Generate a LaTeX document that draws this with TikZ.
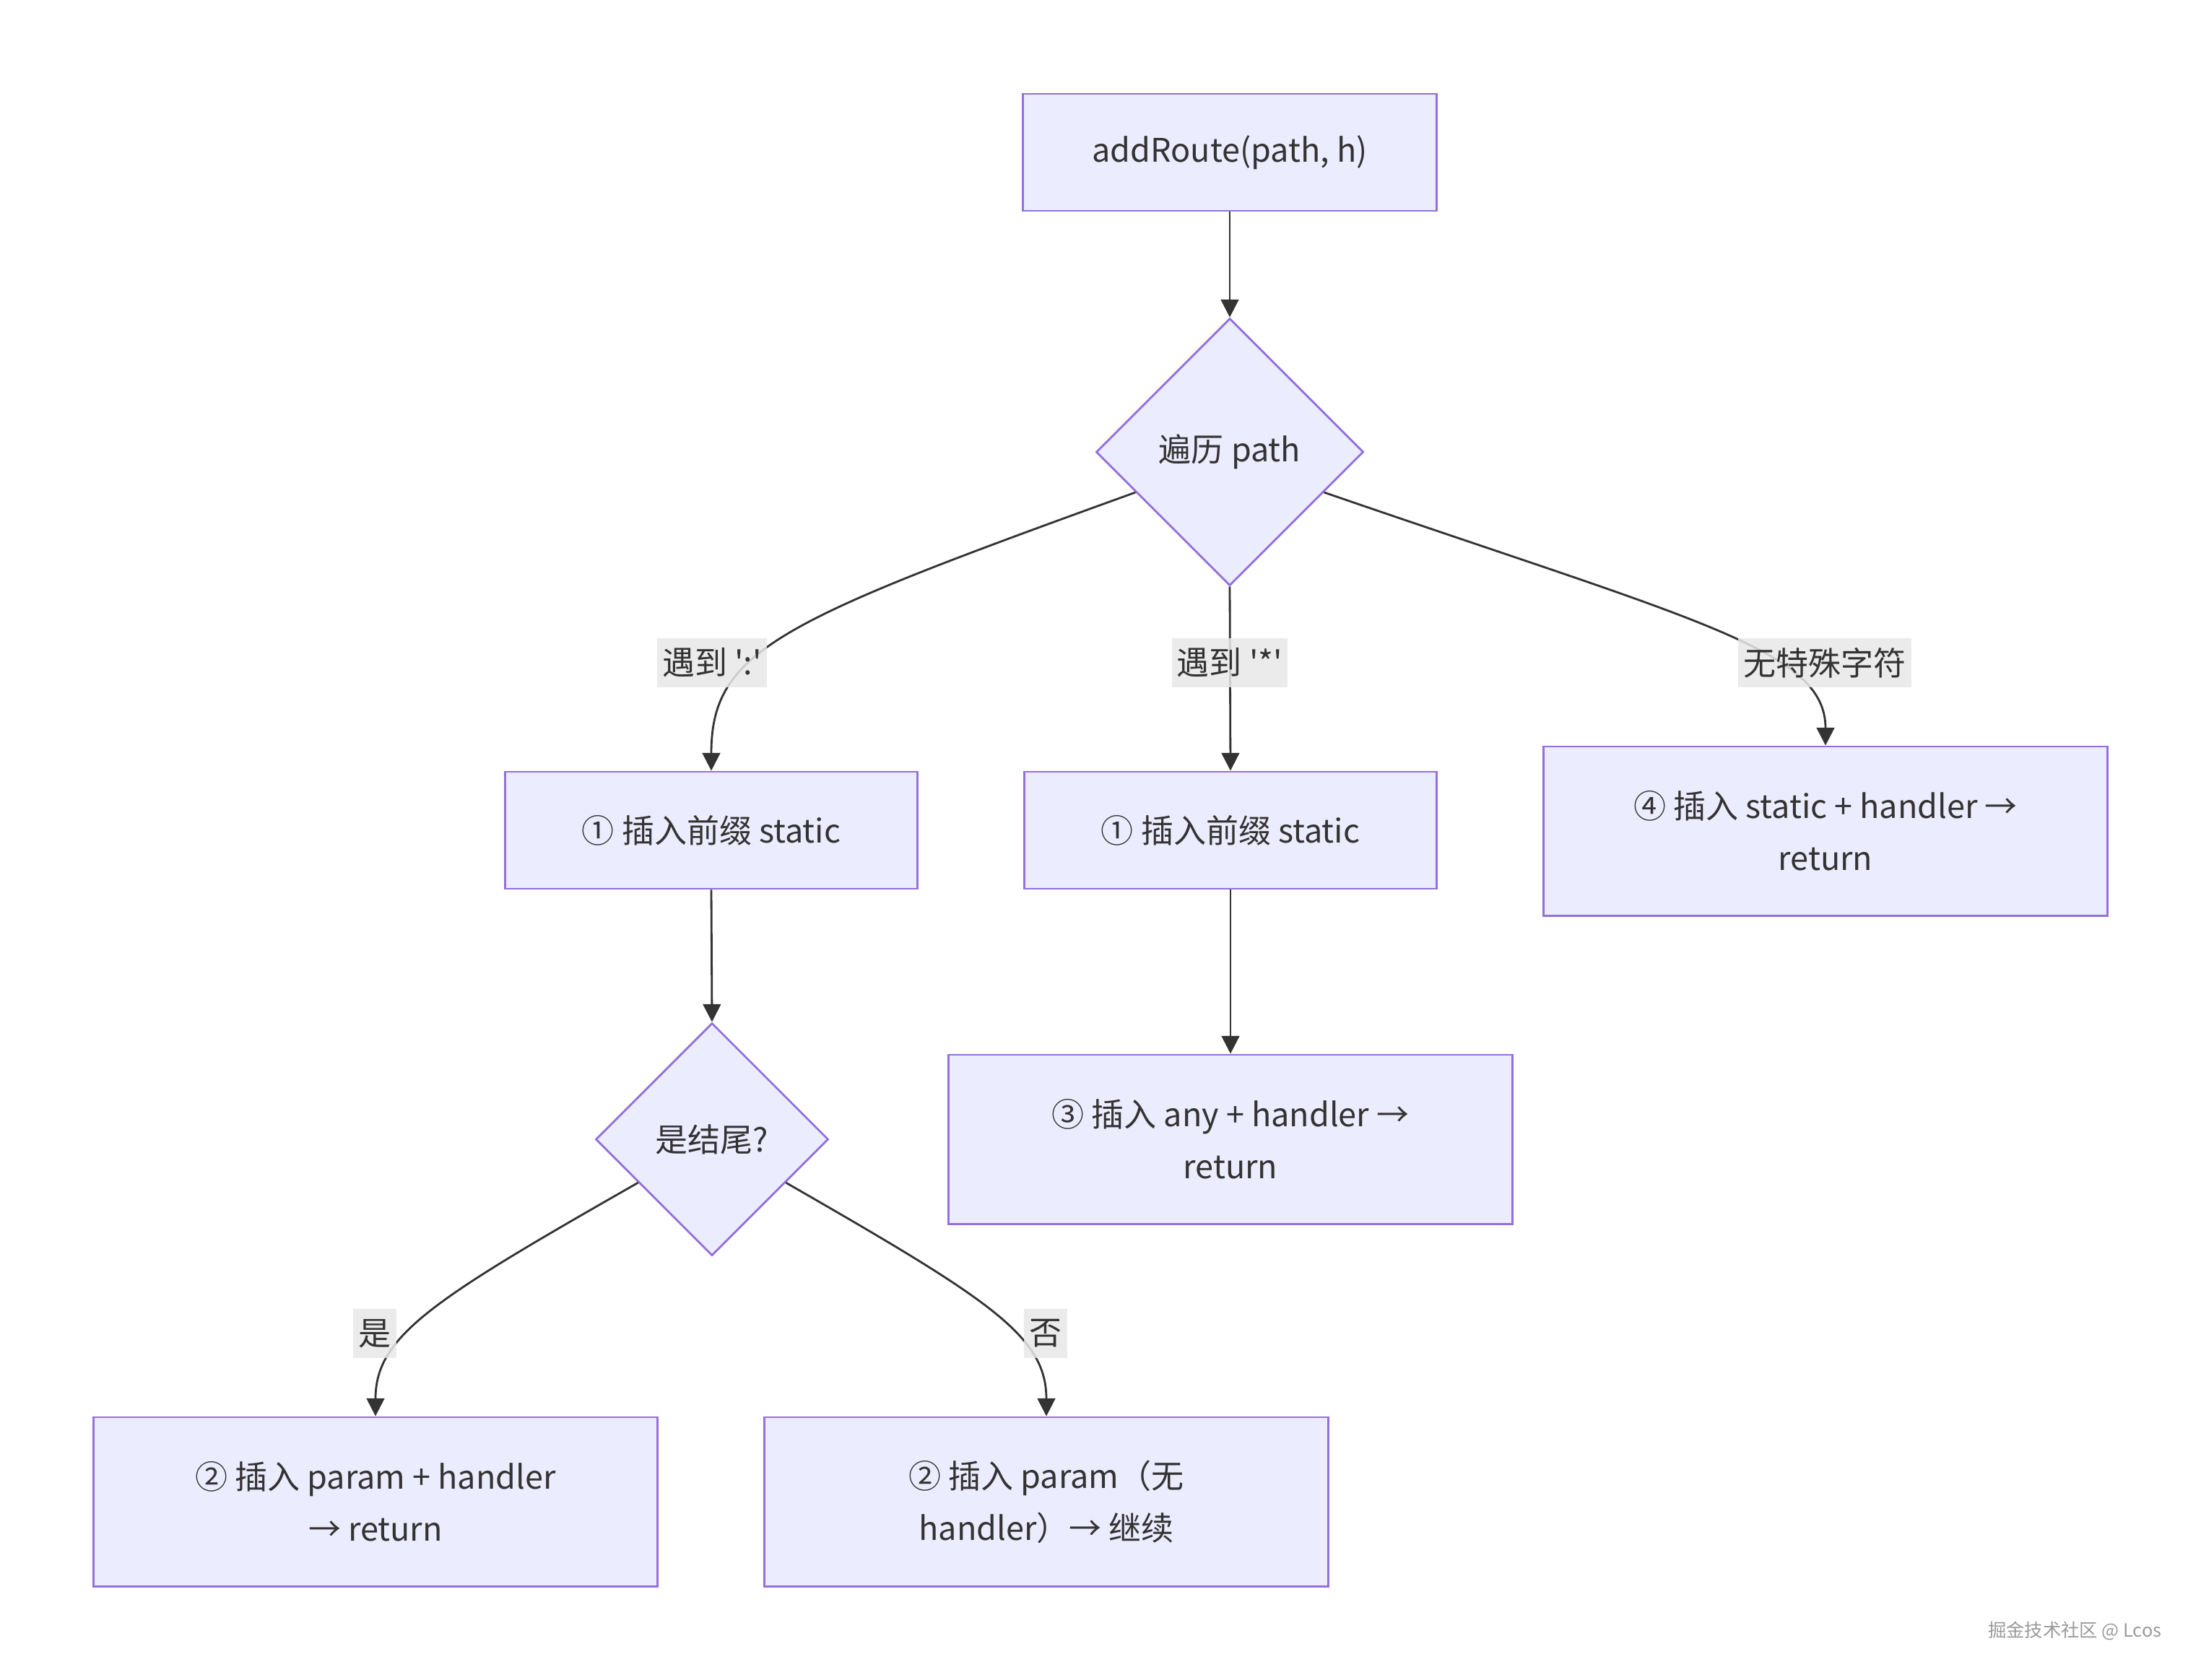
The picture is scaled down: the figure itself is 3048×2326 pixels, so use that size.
\documentclass[tikz,border=0pt]{standalone}
\usepackage{fontspec}
\setmainfont{Noto Sans CJK SC}
\newfontfamily\plainf{Noto Sans CJK SC}
\usetikzlibrary{shapes.geometric,arrows.meta,calc}
\definecolor{nodefill}{HTML}{ECECFF}
\definecolor{nodedraw}{HTML}{9370DB}
\definecolor{edgecol}{HTML}{333333}
\definecolor{labelbg}{HTML}{E8E8E8}
\definecolor{txt}{HTML}{333333}
\definecolor{wmcol}{HTML}{9A9A9A}
\begin{document}
\begin{tikzpicture}[x=0.01cm,y=-0.01cm,
  box/.style={draw=nodedraw, fill=nodefill, line width=0.8pt, inner sep=0pt, align=center, text=txt, font=\plainf\fontsize{12.8}{20.5}\selectfont},
  dia/.style={diamond, aspect=1, draw=nodedraw, fill=nodefill, line width=0.8pt, inner sep=0pt, text=txt, font=\plainf\fontsize{12.8}{20.5}\selectfont},
  elabel/.style={fill=labelbg, fill opacity=0.85, text opacity=1, text=txt, inner xsep=2pt, inner ysep=0pt, minimum height=0.68cm, font=\plainf\fontsize{12.8}{15}\selectfont},
  edge/.style={draw=edgecol, line width=0.8pt, -{Triangle[length=7pt,width=7pt]}},
]
\useasboundingbox[fill=white] (0,0) rectangle (3048,2326);

% nodes
\node[box, minimum width=5.72cm, minimum height=1.62cm] (A) at (1703,211) {addRoute(path, h)};
\node[dia, minimum width=3.70cm, minimum height=3.70cm] (B) at (1703,626) {遍历 path};
\node[box, minimum width=5.70cm, minimum height=1.62cm] (C1) at (985,1150) {① 插入前缀 static};
\node[box, minimum width=5.70cm, minimum height=1.62cm] (C2) at (1704,1150) {① 插入前缀 static};
\node[box, minimum width=7.80cm, minimum height=2.34cm] (C4) at (2528,1151) {④ 插入 static + handler →\\return};
\node[dia, minimum width=3.22cm, minimum height=3.22cm] (D) at (986,1578) {是结尾?};
\node[box, minimum width=7.80cm, minimum height=2.34cm] (C3) at (1704,1578) {③ 插入 any + handler →\\return};
\node[box, minimum width=7.80cm, minimum height=2.34cm] (E1) at (520,2080) {② 插入 param + handler\\→ return};
\node[box, minimum width=7.80cm, minimum height=2.34cm] (E2) at (1449,2080) {② 插入 param（无\\handler）→ 继续};

% edges
\draw[edge] (A.south) -- (B.north);
\draw[edge] ($(B.west)!0.3!(B.south)$) .. controls (1080,860) and (985,900) .. (C1.north);
\draw[edge] (B.south) -- (C2.north);
\draw[edge] ($(B.east)!0.3!(B.south)$) .. controls (2350,860) and (2528,900) .. (C4.north);
\draw[edge] (C1.south) -- (D.north);
\draw[edge] (C2.south) -- (C3.north);
\draw[edge] ($(D.west)!0.37!(D.south)$) .. controls (600,1800) and (520,1850) .. (E1.north);
\draw[edge] ($(D.east)!0.37!(D.south)$) .. controls (1370,1800) and (1449,1850) .. (E2.north);

% edge labels
\node[elabel] (L1) at (986,918) {遇到 ':'};
\node[elabel] (L2) at (1703,918) {遇到 '*'};
\node[elabel] (L3) at (2527,918) {无特殊字符};
\node[elabel] (L4) at (519,1847) {是};
\node[elabel] (L5) at (1448,1847) {否};

% watermark
\node[anchor=east, text=wmcol, inner sep=0pt, font=\plainf\fontsize{7.2}{9}\selectfont] (wm) at (2994,2259) {掘金技术社区 @ Lcos};
\end{tikzpicture}
\end{document}
